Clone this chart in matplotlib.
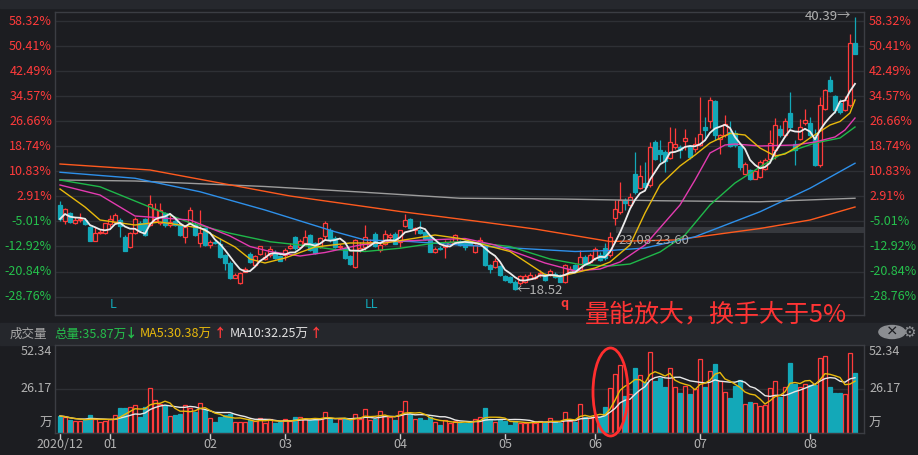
import numpy as np
import pandas as pd
import matplotlib
matplotlib.use("Agg")
import matplotlib.pyplot as plt
from matplotlib.patches import Rectangle, Ellipse, Circle

plt.rcParams['font.family'] = ['Noto Sans CJK SC', 'DejaVu Sans']

# ---- data (price in yuan, volume in 万) ----
open_ = [25.35, 24.07, 24.71, 23.95, 24.15, 24.15, 23.63, 22.51, 23.11, 23.11,
         23.83, 24.03, 24.15, 22.79, 21.99, 23.11, 23.91, 24.23, 23.75, 24.11,
         23.91, 24.75, 23.75, 24.07, 23.75, 22.83, 23.91, 23.75, 22.31, 23.51,
         22.15, 22.43, 22.23, 21.35, 20.75, 19.55, 19.11, 20.03, 21.43, 20.55,
         21.43, 21.03, 21.35, 21.63, 21.27, 21.35, 21.91, 22.79, 22.03, 22.31,
         22.95, 22.31, 22.03, 22.87, 23.35, 22.75, 22.03, 21.87, 21.31, 20.43,
         21.75, 22.03, 22.27, 23.07, 21.75, 22.27, 22.83, 23.07, 22.43, 23.67,
         24.27, 23.35, 23.35, 23.23, 22.83, 21.63, 21.95, 22.03, 22.27, 22.43,
         22.43, 22.31, 22.43, 21.63, 22.27, 22.07, 20.55, 20.43, 20.47, 19.67,
         19.59, 19.23, 19.15, 19.23, 19.47, 19.51, 19.75, 19.87, 19.75, 19.87,
         19.75, 19.23, 20.03, 20.55, 20.15, 21.23, 20.83, 21.11, 21.35, 21.91,
         21.35, 24.31, 24.83, 25.79, 25.35, 27.87, 26.75, 27.07, 26.95, 30.43,
         29.75, 29.63, 29.15, 30.03, 30.03, 30.51, 30.03, 29.87, 30.19, 31.59,
         32.07, 33.67, 30.67, 30.95, 31.23, 31.11, 30.03, 27.87, 28.15, 27.47,
         27.63, 28.27, 29.07, 29.75, 31.47, 30.95, 32.67, 30.27, 30.67, 31.95,
         31.87, 30.83, 28.55, 33.07, 35.31, 34.07, 33.51, 32.95, 33.35, 38.27]
close = [24.23, 25.03, 23.99, 24.15, 24.23, 23.83, 22.51, 23.15, 23.23, 23.91,
         24.23, 24.59, 23.67, 21.71, 23.07, 24.19, 23.35, 22.95, 25.43, 25.07,
         24.95, 23.75, 24.03, 23.75, 22.95, 23.63, 24.95, 22.95, 23.11, 22.15,
         22.39, 22.31, 21.19, 20.71, 19.51, 19.75, 19.95, 20.27, 20.83, 21.27,
         22.03, 21.23, 21.87, 21.11, 20.91, 21.79, 22.07, 21.91, 22.47, 22.83,
         21.75, 21.51, 22.71, 23.95, 22.55, 22.03, 22.11, 21.15, 20.67, 22.55,
         21.95, 22.83, 22.43, 22.07, 22.15, 23.07, 22.95, 22.27, 23.35, 24.19,
         23.55, 23.55, 23.15, 22.67, 21.63, 21.83, 21.83, 22.43, 22.43, 22.95,
         22.15, 22.03, 22.23, 22.15, 22.55, 20.55, 20.27, 20.91, 19.75, 19.35,
         19.19, 18.67, 19.67, 19.67, 19.75, 19.63, 19.95, 19.35, 20.07, 19.63,
         19.23, 20.55, 20.27, 20.11, 21.23, 20.67, 21.35, 21.83, 20.95, 21.11,
         22.79, 25.03, 25.79, 25.55, 26.03, 26.39, 27.67, 26.83, 29.99, 29.03,
         29.47, 28.87, 30.35, 30.27, 29.75, 30.75, 29.23, 30.23, 31.07, 31.35,
         33.75, 30.95, 30.95, 31.83, 30.07, 30.15, 28.43, 28.67, 27.47, 28.03,
         28.83, 28.95, 30.31, 31.75, 30.95, 32.07, 31.63, 29.75, 31.63, 32.15,
         30.95, 28.55, 33.35, 34.55, 34.51, 32.95, 32.79, 33.75, 38.27, 37.47]
high = [25.67, 25.11, 24.79, 24.39, 24.71, 24.35, 23.67, 23.63, 23.43, 23.95,
        24.55, 24.71, 24.31, 22.95, 23.19, 24.39, 24.07, 24.35, 26.15, 25.55,
        25.51, 24.83, 24.55, 24.23, 23.91, 23.75, 25.23, 23.99, 24.95, 23.59,
        22.55, 22.55, 22.71, 21.43, 20.87, 19.91, 20.03, 20.39, 21.59, 21.35,
        22.07, 21.59, 22.07, 21.75, 21.35, 21.91, 22.31, 22.87, 22.63, 23.35,
        23.03, 22.39, 22.79, 24.07, 23.51, 22.87, 22.27, 21.99, 21.39, 22.63,
        22.43, 23.75, 22.67, 23.23, 22.43, 23.35, 23.15, 23.19, 23.39, 24.67,
        24.35, 23.63, 24.07, 23.31, 22.91, 22.03, 22.07, 22.55, 22.55, 23.07,
        22.55, 22.55, 22.51, 22.27, 22.83, 22.15, 20.67, 21.11, 20.55, 19.75,
        19.67, 19.35, 19.75, 19.87, 20.03, 19.83, 20.15, 19.95, 20.27, 19.99,
        19.83, 20.67, 20.47, 20.63, 21.75, 21.35, 21.51, 22.03, 21.63, 22.31,
        23.23, 25.75, 27.19, 25.95, 26.31, 29.63, 28.55, 28.83, 30.43, 30.55,
        30.55, 29.75, 31.59, 31.51, 30.15, 31.47, 30.15, 30.83, 34.03, 32.39,
        33.99, 33.75, 31.03, 32.55, 32.07, 31.35, 30.15, 28.79, 28.23, 28.15,
        28.95, 29.11, 31.35, 32.35, 31.75, 32.35, 34.43, 30.55, 32.23, 33.07,
        32.39, 31.47, 34.03, 34.67, 35.63, 34.15, 33.83, 34.07, 39.07, 40.39]
low = [24.07, 23.83, 23.95, 23.83, 23.99, 23.75, 22.47, 22.47, 23.03, 23.03,
       23.59, 23.91, 22.79, 21.67, 21.91, 23.03, 23.27, 22.87, 23.67, 23.99,
       23.75, 23.63, 23.59, 23.67, 22.87, 22.35, 23.83, 22.87, 22.03, 22.07,
       21.91, 22.23, 21.11, 20.15, 19.43, 19.51, 19.03, 19.99, 20.75, 20.47,
       21.35, 20.95, 21.23, 21.03, 20.87, 20.95, 21.83, 21.75, 21.99, 22.23,
       21.67, 21.43, 21.91, 22.55, 22.43, 21.95, 21.87, 21.07, 20.55, 20.35,
       21.63, 21.75, 22.15, 22.03, 21.63, 22.15, 22.67, 22.23, 22.03, 23.63,
       23.47, 23.07, 23.07, 22.59, 21.59, 21.55, 21.75, 21.15, 22.19, 22.27,
       22.07, 21.79, 22.15, 21.55, 22.15, 20.47, 19.95, 20.35, 19.67, 19.27,
       19.11, 18.52, 18.95, 19.15, 19.43, 19.43, 19.63, 19.27, 19.67, 19.55,
       19.19, 19.15, 19.95, 20.03, 20.11, 20.59, 20.71, 20.99, 20.87, 20.95,
       21.23, 23.75, 24.67, 24.95, 25.27, 26.27, 26.67, 26.75, 26.83, 28.95,
       28.83, 28.03, 29.03, 29.87, 29.11, 29.75, 29.03, 29.63, 30.07, 30.55,
       31.51, 30.55, 29.47, 30.79, 29.99, 29.99, 28.15, 27.83, 27.35, 27.43,
       27.51, 28.19, 28.95, 29.07, 30.83, 30.83, 31.47, 28.55, 30.55, 31.75,
       30.79, 28.47, 28.43, 32.95, 34.43, 32.71, 32.63, 32.91, 33.23, 37.43]
volume = [10.0, 9.2, 7.6, 7.0, 7.0, 8.0, 10.6, 8.0, 6.4, 7.0,
          8.0, 10.3, 14.7, 14.7, 15.4, 16.4, 9.3, 15.4, 26.5, 19.5,
          16.9, 15.7, 10.0, 10.6, 11.0, 16.7, 14.5, 12.4, 17.6, 13.5,
          8.6, 6.2, 9.2, 10.6, 11.2, 6.4, 6.6, 6.4, 7.6, 7.0,
          8.6, 6.0, 8.3, 5.5, 6.6, 8.0, 6.8, 9.2, 9.5, 8.3,
          7.6, 8.0, 8.3, 12.4, 8.3, 5.5, 8.0, 9.0, 7.6, 11.0,
          8.0, 13.9, 7.6, 8.3, 12.9, 10.0, 9.2, 7.6, 12.9, 18.9,
          11.2, 8.0, 9.0, 7.6, 9.2, 6.2, 4.6, 7.6, 5.5, 7.0,
          5.9, 5.9, 6.6, 8.0, 9.5, 14.5, 7.6, 6.6, 7.6, 7.1,
          4.8, 6.8, 5.9, 5.9, 6.4, 5.9, 7.1, 5.9, 8.6, 6.4,
          5.9, 12.2, 7.1, 6.4, 16.9, 9.2, 8.6, 10.6, 9.5, 15.2,
          26.5, 34.9, 40.3, 22.0, 23.1, 38.4, 34.3, 30.5, 48.0, 30.8,
          32.7, 27.1, 38.4, 27.5, 23.5, 27.9, 23.1, 25.9, 43.8, 27.1,
          36.9, 41.0, 30.8, 24.5, 20.6, 27.9, 31.5, 16.9, 18.3, 17.9,
          15.9, 16.6, 26.5, 30.8, 21.1, 27.1, 41.8, 29.1, 27.5, 29.1,
          28.3, 28.5, 44.5, 45.8, 27.1, 23.9, 23.5, 23.1, 47.4, 35.87]

# moving averages (candle index, price)
ma10_x = [0, 5, 8, 15, 20, 28, 35, 38, 41, 45, 51, 58, 65, 75, 80, 90, 97, 100, 107, 110,
          114, 117, 120, 124, 127, 130, 134, 137, 140, 143, 145, 148, 150, 152, 154, 156, 158, 159]
ma10_y = [26.63, 25.19, 24.15, 23.75, 23.99, 23.51, 21.99, 21.03, 20.71, 21.11, 21.99, 22.31,
          22.31, 22.95, 22.67, 21.63, 19.79, 19.63, 20.31, 20.79, 22.15, 24.71, 26.95, 28.47,
          29.35, 30.31, 31.08, 30.95, 29.91, 29.27, 29.43, 30.15, 30.71, 31.23, 31.75, 32.03, 32.71, 33.75]
ma20_x = [0, 8, 15, 26, 34, 38, 42, 48, 53, 60, 66, 81, 87, 97, 103, 108, 112, 117, 124, 127,
          130, 133, 135, 140, 147, 151, 155, 157, 159]
ma20_y = [26.95, 26.15, 24.47, 24.15, 22.87, 22.03, 21.63, 21.27, 21.55, 22.15, 22.43, 22.67,
          22.15, 20.71, 20.07, 20.23, 20.79, 22.15, 25.35, 27.35, 29.51, 30.15, 30.23, 30.07,
          30.15, 30.39, 30.79, 31.35, 32.31]
ma30_x = [0, 8, 21, 26, 34, 42, 48, 55, 61, 68, 75, 81, 90, 98, 104, 110, 114, 120, 125, 130,
          135, 140, 144, 151, 156, 159]
ma30_y = [27.35, 26.81, 24.69, 23.93, 23.09, 22.41, 22.15, 21.79, 21.63, 21.89, 22.31, 22.43,
          22.03, 21.03, 20.59, 20.47, 20.63, 21.59, 22.95, 25.35, 27.11, 28.39, 29.35, 30.31,
          30.71, 31.59]
ma60_x = [0, 15, 28, 41, 55, 61, 70, 80, 103, 110, 117, 127, 140, 150, 159]
ma60_y = [27.97, 27.49, 26.41, 24.95, 23.21, 22.55, 22.43, 22.15, 21.63, 21.71, 21.91, 22.81,
          24.81, 26.69, 28.69]
ma120_x = [0, 18, 46, 68, 83, 95, 110, 123, 140, 150, 159]
ma120_y = [28.63, 28.15, 26.07, 24.83, 24.07, 23.43, 22.43, 22.55, 23.47, 24.15, 25.19]
ma250_x = [0, 15, 41, 60, 80, 100, 120, 140, 159]
ma250_y = [27.35, 27.27, 26.83, 26.39, 25.89, 25.83, 25.69, 25.61, 25.89]

base_price = 25.30
pct_ticks = [58.32, 50.41, 42.49, 34.57, 26.66, 18.74, 10.83, 2.91, -5.01, -12.92, -20.84, -28.76]
month_pos = [0, 10, 30, 45, 68, 89, 107, 128, 150]
month_labels = ["2020/12", "01", "02", "03", "04", "05", "06", "07", "08"]

# ---- colours ----
BG = "#1c1d21"
STRIP = "#25272c"
GRID = "#2e3035"
FRAME = "#3b3d43"
RED = "#ff3b3b"
TEAL = "#13a8b8"
GREEN_T = "#25c04c"
GRAY_T = "#b3b3b3"

W, H = 918, 455


def box(l, t, r, b):
    return [l / W, 1 - b / H, (r - l) / W, (b - t) / H]


fig = plt.figure(figsize=(W / 100, H / 100), dpi=100, facecolor=BG)
fig.add_artist(Rectangle((0, 1 - 8 / H), 1, 8 / H, transform=fig.transFigure,
                         color="#26282d", zorder=0))
fig.add_artist(Rectangle((0, 1 - 345 / H), 1, 22 / H, transform=fig.transFigure,
                         color=STRIP, zorder=0))

ax = fig.add_axes(box(55, 12, 864, 315))
axv = fig.add_axes(box(55, 345, 864, 432.7))

n = len(close)
xs = np.arange(n)
up = np.array(close) >= np.array(open_)

for a in (ax, axv):
    a.set_facecolor(BG)
    for s in a.spines.values():
        s.set_color(FRAME)
        s.set_linewidth(1)
    a.set_xlim(-1, 160.8)
    a.tick_params(left=False, right=False, labelleft=False, labelbottom=False)

# ---- price panel ----
tick_prices = [base_price * (1 + p / 100) for p in pct_ticks]
ax.set_ylim(16.55, 40.79)
ax.set_yticks([])
ax.set_xticks([])
ax.hlines(tick_prices, -1, 160.8, color=GRID, lw=1, zorder=0)

for p, tp in zip(pct_ticks, tick_prices):
    col = RED if p > 0 else GREEN_T
    lab = f"{p:.2f}%"
    ax.text(-3 / 809, tp, lab, transform=ax.get_yaxis_transform(), ha="right",
            va="center", color=col, fontsize=9, clip_on=False)
    ax.text(1 + 5 / 809, tp, lab, transform=ax.get_yaxis_transform(), ha="left",
            va="center", color=col, fontsize=9, clip_on=False)

w = 0.66
for i in range(n):
    o, c, h, l = open_[i], close[i], high[i], low[i]
    col = RED if up[i] else TEAL
    top, bot = max(o, c), min(o, c)
    ax.vlines(i, top, h, color=col, lw=0.9, zorder=2)
    ax.vlines(i, l, bot, color=col, lw=0.9, zorder=2)
    ax.add_patch(Rectangle((i - w / 2, bot), w, max(top - bot, 0.03),
                           facecolor=BG if up[i] else col, edgecolor=col,
                           lw=0.9, zorder=3))

ma5 = pd.Series(close).rolling(5, min_periods=1).mean()
ax.plot(ma250_x, ma250_y, color="#9c9c9c", lw=1.0, zorder=4)
ax.plot(ma120_x, ma120_y, color="#ff5a1e", lw=1.0, zorder=4)
ax.plot(ma60_x, ma60_y, color="#2e90ea", lw=1.0, zorder=4)
ax.plot(ma30_x, ma30_y, color="#1fb84a", lw=1.0, zorder=4)
ax.plot(ma20_x, ma20_y, color="#e33bb0", lw=1.0, zorder=4)
ax.plot(ma10_x, ma10_y, color="#e8b90c", lw=1.0, zorder=4)
ax.plot(xs, ma5, color="#ececec", lw=1.3, zorder=5)

# price band + annotations
ax.add_patch(Rectangle((111.2, 23.08), 160.8 - 111.2, 0.52, color="#3a3c41",
                       alpha=0.9, zorder=1, lw=0))
ax.text(111.6, 22.55, "23.08-23.60", color="#a9a9a9", fontsize=9.5, va="center",
        ha="left", zorder=6)
ax.text(158.2, 40.39, "40.39→", color="#b0b0b0", fontsize=9.5, va="center",
        ha="right", zorder=6)
ax.text(91.4, 18.52, "←18.52", color="#b0b0b0", fontsize=9.5, va="center",
        ha="left", zorder=6)
ax.text(10.7, 17.43, "L", color=TEAL, fontsize=9, ha="center", va="center")
ax.text(62.2, 17.43, "LL", color=TEAL, fontsize=9, ha="center", va="center")
ax.text(100.9, 17.43, "q", color=RED, fontsize=9, ha="center", va="center",
        fontweight="bold")

# ---- volume panel ----
axv.set_ylim(0, 52.34)
axv.set_yticks([])
axv.hlines([26.17], -1, 160.8, color=GRID, lw=1, zorder=0)
for i in range(n):
    col = RED if up[i] else TEAL
    axv.add_patch(Rectangle((i - w / 2, 0), w, volume[i],
                            facecolor=BG if up[i] else col, edgecolor=col,
                            lw=0.9, zorder=2))
vma5 = pd.Series(volume).rolling(5, min_periods=1).mean()
vma10 = pd.Series(volume).rolling(10, min_periods=1).mean()
axv.plot(xs, vma10, color="#e8e8e8", lw=1.0, zorder=4)
axv.plot(xs, vma5, color="#e8b90c", lw=1.0, zorder=4)

tr = axv.get_yaxis_transform()
for xa, ha in ((-3 / 809, "right"), (1 + 5 / 809, "left")):
    axv.text(xa, 52.34, "52.34", transform=tr, ha=ha, va="top", color=GRAY_T,
             fontsize=9, clip_on=False)
    axv.text(xa, 26.17, "26.17", transform=tr, ha=ha, va="center", color=GRAY_T,
             fontsize=9, clip_on=False)
    axv.text(xa, 5.8, "万", transform=tr, ha=ha, va="center", color=GRAY_T,
             fontsize=9, clip_on=False)

axv.set_xticks(month_pos)
axv.tick_params(axis="x", bottom=True, direction="out", length=4, width=1,
                color="#d0d0d0", labelbottom=False)
for pos, lab in zip(month_pos, month_labels):
    axv.text(pos, -0.14, lab, transform=axv.get_xaxis_transform(), ha="center",
             va="center", color=GRAY_T, fontsize=9, clip_on=False)

# header strip texts
hy = 1 - 334 / H
fig.text(10 / W, hy, "成交量", color="#a8a8a8", fontsize=9, va="center")
fig.text(54 / W, hy, "总量:35.87万", color=GREEN_T, fontsize=9, va="center")
fig.text(125 / W, hy, "↓", color=GREEN_T, fontsize=9, va="center", fontweight="bold")
fig.text(140 / W, hy, "MA5:30.38万", color="#e8b90c", fontsize=9, va="center")
fig.text(214 / W, hy, "↑", color=RED, fontsize=9, va="center", fontweight="bold")
fig.text(230 / W, hy, "MA10:32.25万", color="#e0e0e0", fontsize=9, va="center")
fig.text(310 / W, hy, "↑", color=RED, fontsize=9, va="center", fontweight="bold")

fig.add_artist(Circle((892 / W, 1 - 332 / H), 6.5 / H, transform=fig.transFigure,
                      color="#8c8e92", zorder=5))
fig.text(892 / W, 1 - 332 / H, "×", color=BG, fontsize=9, ha="center", va="center",
         fontweight="bold", zorder=6)
fig.text(909 / W, 1 - 332 / H, "⚙", color="#8c8e92", fontsize=11, ha="center",
         va="center", family="DejaVu Sans")

# big annotation and circle around the volume surge
fig.text(585 / W, 1 - 314 / H, "量能放大，换手大于5%", color="#ff3434", fontsize=18,
         va="center", ha="left", zorder=10)
fig.add_artist(Ellipse((610.5 / W, 1 - 392 / H), 35 / W, 88 / H,
                       transform=fig.transFigure, fill=False, edgecolor="#ff2e2e",
                       lw=2, zorder=10))

fig.savefig("out.png", dpi=100, facecolor=BG)
